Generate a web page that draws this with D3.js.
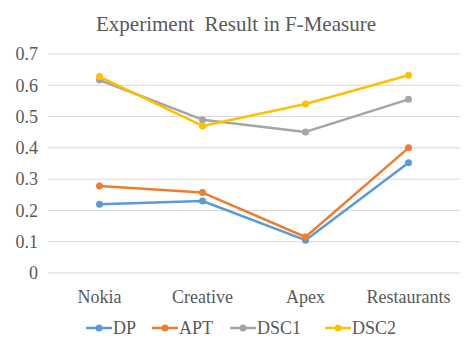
<!DOCTYPE html>
<html>
<head>
<meta charset="utf-8">
<script src="https://cdn.jsdelivr.net/npm/d3@7"></script>
<style>
  body { margin: 0; background: #fff; }
</style>
</head>
<body>
<div id="chart"></div>
<script>
// Chart data
const categories = ["Nokia", "Creative", "Apex", "Restaurants"];
const seriesNames = ["DP", "APT", "DSC1", "DSC2"];
const dpValues = [0.22, 0.23, 0.105, 0.352];
const aptValues = [0.278, 0.257, 0.115, 0.4];
const dsc1Values = [0.617, 0.49, 0.451, 0.555];
const dsc2Values = [0.628, 0.47, 0.54, 0.632];
const yTicks = [0, 0.1, 0.2, 0.3, 0.4, 0.5, 0.6, 0.7];
const colors = ["#5B9BD5", "#ED7D31", "#A5A5A5", "#FFC000"];

const FONT = "'Liberation Serif', 'Times New Roman', Tinos, serif";
const TEXT_COLOR = "#595959";

const series = [dpValues, aptValues, dsc1Values, dsc2Values].map((vals, i) => ({
  name: seriesNames[i],
  color: colors[i],
  values: vals
}));

const width = 474, height = 351;
const margin = { top: 54, right: 14, bottom: 78, left: 48 };

const svg = d3.select("#chart").append("svg")
  .attr("width", width)
  .attr("height", height)
  .style("font-family", FONT);

const x = d3.scaleBand().domain(categories).range([margin.left, width - margin.right]);
const y = d3.scaleLinear().domain([0, 0.7]).range([height - margin.bottom, margin.top]);

// Title
svg.append("text")
  .attr("x", 236)
  .attr("y", 31)
  .attr("text-anchor", "middle")
  .style("font-family", FONT)
  .style("font-size", "21px")
  .style("white-space", "pre")
  .attr("fill", TEXT_COLOR)
  .text("Experiment  Result in F-Measure");

// Grid lines
svg.append("g")
  .selectAll("line")
  .data(yTicks)
  .join("line")
  .attr("x1", margin.left)
  .attr("x2", width - margin.right)
  .attr("y1", d => y(d))
  .attr("y2", d => y(d))
  .attr("stroke", "#d9d9d9")
  .attr("stroke-width", 1);

// Y tick labels
svg.append("g")
  .selectAll("text")
  .data(yTicks)
  .join("text")
  .attr("x", 38)
  .attr("y", d => y(d))
  .attr("dy", "0.35em")
  .attr("text-anchor", "end")
  .style("font-family", FONT)
  .style("font-size", "18px")
  .attr("fill", TEXT_COLOR)
  .text(d => d === 0 ? "0" : d.toFixed(1));

// X category labels
svg.append("g")
  .selectAll("text")
  .data(categories)
  .join("text")
  .attr("x", d => x(d) + x.bandwidth() / 2)
  .attr("y", 303)
  .attr("text-anchor", "middle")
  .style("font-family", FONT)
  .style("font-size", "18px")
  .attr("fill", TEXT_COLOR)
  .text(d => d);

const line = d3.line()
  .x((d, i) => x(categories[i]) + x.bandwidth() / 2)
  .y(d => y(d));

// Lines and markers
series.forEach(s => {
  svg.append("path")
    .datum(s.values)
    .attr("fill", "none")
    .attr("stroke", s.color)
    .attr("stroke-width", 2.5)
    .attr("stroke-linejoin", "round")
    .attr("d", line);

  svg.append("g")
    .selectAll("circle")
    .data(s.values)
    .join("circle")
    .attr("cx", (d, i) => x(categories[i]) + x.bandwidth() / 2)
    .attr("cy", d => y(d))
    .attr("r", 3.5)
    .attr("fill", s.color);
});

// Legend
const legendX = [86, 152, 230, 325];
const legend = svg.append("g")
  .selectAll("g")
  .data(series)
  .join("g")
  .attr("transform", (d, i) => `translate(${legendX[i]},328)`);

legend.append("line")
  .attr("x1", 0).attr("x2", 26)
  .attr("stroke", d => d.color)
  .attr("stroke-width", 2.5);
legend.append("circle")
  .attr("cx", 13).attr("r", 3.5)
  .attr("fill", d => d.color);
legend.append("text")
  .attr("x", 27)
  .attr("dy", "0.35em")
  .style("font-family", FONT)
  .style("font-size", "18px")
  .attr("fill", TEXT_COLOR)
  .text(d => d.name);
</script>
</body>
</html>
